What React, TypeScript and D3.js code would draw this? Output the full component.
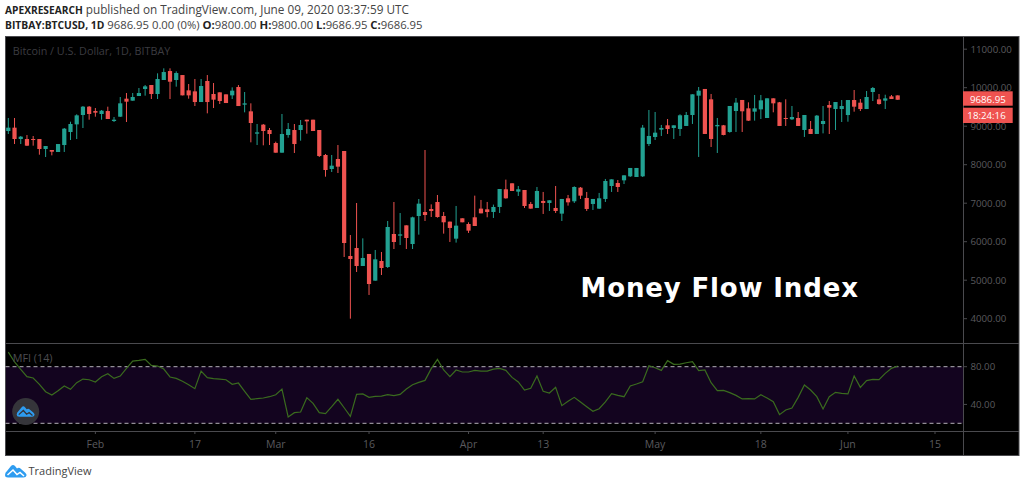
import * as d3 from 'd3';

const START_DATE = Date.UTC(2020, 0, 18);

const opens = [
  8875,8962,8667,8667,8667,8667,8408,8382,8330,8511,
  8849,9048,9291,9507,9394,9317,9394,9135,9247,9715,
  9663,9784,9966,10070,9836,10200,10433,10200,10329,9931,
  9905,9628,10174,9836,9879,9827,9801,10018,9559,9386,
  8806,9040,8901,8563,8312,8771,8901,8901,9169,9169,
  8901,8252,7888,8148,8356,5629,5836,5369,5681,4988,
  5499,5343,6200,6157,6425,5940,6667,6771,6849,7031,
  6668,6521,6079,6608,6460,6634,6859,6841,6772,6902,
  7361,7517,7300,7343,6980,6876,7058,7006,6876,6729,
  7127,7049,7404,7136,6980,6859,7110,7447,7525,7594,
  7698,7681,7698,8538,8720,8910,9023,8954,8928,9006,
  9291,9793,9967,9698,8997,9023,8850,9395,9681,9464,
  9378,9438,9213,9724,9620,9213,9179,9213,8902,8928,
  8798,9057,9550,9446,9446,9290,9680,9611,9446,9888,
  9697,9663,9775,9800,
];
const highs = [
  9213,9213,8745,8771,8745,8667,8485,8382,8537,8953,
  9117,9308,9524,9524,9472,9420,9507,9239,9758,9862,
  9862,9992,10070,10070,10373,10503,10503,10425,10329,10096,
  10226,10226,10329,10122,9879,9827,10009,10070,9888,9594,
  9057,9057,8953,8598,9317,9083,9057,9161,9169,9169,
  8901,8278,8252,8511,8356,6174,7005,6087,5681,5785,
  5733,6538,7031,6745,6425,6650,7109,8382,6970,7213,
  6772,6521,6928,6608,6504,7196,7084,7032,6963,7369,
  7612,7517,7447,7343,7032,7421,7292,7075,7447,7110,
  7214,7439,7421,7292,7110,7266,7629,7620,7603,7724,
  7915,7915,9032,9421,9369,9032,9187,9023,9309,9369,
  9828,10018,9967,9837,9213,9032,9525,9733,9681,9620,
  9811,9811,9724,9724,9629,9698,9525,9369,9291,9135,
  9291,9524,9654,9628,9680,9680,9940,9706,9914,10018,
  9836,9818,9810,9800,
];
const lows = [
  8797,8537,8537,8485,8494,8260,8200,8243,8330,8330,
  8641,8667,8953,9169,9247,9169,9187,9109,9239,9109,
  9663,9784,9793,9706,9706,10200,9706,10026,9801,9715,
  9524,9628,9334,9472,9576,9602,9706,9524,9360,8581,
  8511,8503,8511,8312,8312,8702,8304,8624,8806,8875,
  8200,7689,7810,7784,5603,4001,5213,5369,4616,4988,
  5135,5317,5810,5914,5810,5810,6183,6538,6641,6624,
  6209,5993,5976,6504,6227,6408,6737,6634,6616,6746,
  7118,7317,7188,6876,6859,6876,6720,6798,6746,6538,
  6937,7006,7110,6798,6824,6850,7032,7292,7292,7499,
  7681,7681,7681,8486,8642,8746,8798,8668,8746,9006,
  9058,8201,8798,8460,8304,8763,8832,8850,8850,9135,
  9144,9187,9213,9361,9006,9006,9161,9006,8720,8798,
  8798,8814,8797,8901,9109,9117,9377,9394,9446,9654,
  9559,9446,9706,9686.95,
];
const closes = [
  8962,8667,8728,8494,8650,8408,8485,8338,8537,8936,
  9057,9282,9507,9317,9351,9403,9187,9169,9594,9637,
  9758,9862,10035,9836,10226,10407,10156,10381,9801,9801,
  9628,10044,9628,9689,9654,9602,9923,9524,9594,9083,
  8840,8875,8797,8312,8797,8927,8537,9031,9126,8875,
  8226,7862,7975,7949,5966,5551,5369,5577,4901,5542,
  5317,6382,5992,6191,6096,6633,6988,6693,6797,6641,
  6504,6357,6417,6504,6287,6408,6737,6772,6902,7369,
  7127,7317,7361,6928,6859,7317,7006,7075,6798,7110,
  7023,7421,7196,6850,7110,7127,7577,7620,7421,7724,
  7915,7915,8962,8746,8832,8954,8928,9023,9283,9291,
  9828,9923,8798,8668,9032,8772,9525,9612,9387,9144,
  9464,9672,9724,9594,9006,9187,9239,9006,9291,8798,
  9274,9135,9481,9628,9524,9680,9507,9446,9758,9992,
  9576,9723,9706,9686.95,
];
const mfi = [
  95.5,85,77.2,69.4,68,61.3,53.5,50,54.6,59.5,
  56,63.1,66.9,66.2,63.8,69.4,72.6,67.6,70.1,78.2,
  86,86.7,87.8,81.4,80.7,77.5,69.1,67.6,64.5,60.9,
  56.7,75.4,68.4,67.3,66.9,66.2,61.3,62.7,53.9,45.4,
  46.1,46.8,48.2,50.3,56.3,26.7,31.3,32,47.2,41.2,
  31.3,30.2,37.6,45.4,36.5,27.4,50.7,51.1,47.5,48.6,
  48.9,50.3,49.3,50.7,56.3,60.9,63.4,65.5,77.9,87.8,
  76.5,69.4,76.5,74.4,74.4,76.1,75.4,75.4,77.5,78.2,
  76.1,68.7,63.8,55.3,57.1,70.1,53.9,52.1,58.1,38.7,
  43.3,47.5,42.6,37.6,32.7,35.5,42.6,51.4,49.6,48.2,
  59.5,61.6,64.1,81.1,78.9,76.1,86.4,82.5,82.8,84.2,
  85.3,75.8,76.5,63.1,54.6,54.9,52.5,49.6,45.8,46.1,
  45.8,50.3,46.8,42.9,29.2,34.1,36.2,47.5,60.6,55.3,
  48.2,35.2,48.2,52.8,51.8,51.1,70.1,58.1,65.2,66.6,
  66.2,72.9,78.2,80.7,
];

const priceTicks = [4000, 5000, 6000, 7000, 8000, 9000, 10000, 11000];
const mfiTicks = [40, 80];
const mfiBands = [20, 80];
const timeTicks: [number, number, number, string][] = [
  [2020, 1, 1, 'Feb'], [2020, 1, 17, '17'], [2020, 2, 1, 'Mar'], [2020, 2, 16, '16'],
  [2020, 3, 1, 'Apr'], [2020, 3, 13, '13'], [2020, 4, 1, 'May'], [2020, 4, 18, '18'],
  [2020, 5, 1, 'Jun'], [2020, 5, 15, '15'],
];
const LAST_PRICE = 9686.95;

const UP = '#22a192';
const DOWN = '#ef5350';
const AXIS_TEXT = '#5a5a5e';
const FRAME = '#4a4a4e';
const FONT = '"Open Sans", sans-serif';

const W = 1024;
const H = 486;
const LEFT = 5.5;
const RIGHT = 1019;
const AXIS_X = 963;

const CLOUD = 'M0 11 Q0 8.5 2 7 L6 2 Q8 0 10 2 L12 4.5 Q14 3 16 5 L20 8.5 Q22 10.5 21.5 11.5 Q21 13.5 18.5 13.5 L3 13.5 Q0 13.5 0 11 Z';
const CLOUD_LINE = 'M2.5 11 L8 6 L12 10.5 L15 8.5 L19 12';

export default function App() {
  const dates = opens.map((_, i) => d3.utcDay.offset(new Date(START_DATE), i));

  const x = d3.scaleUtc()
    .domain([new Date(START_DATE), new Date(Date.UTC(2020, 5, 15))])
    .range([8.3, 935]);
  const y = d3.scaleLinear().domain([4000, 11000]).range([318.7, 49.2]);
  const yMfi = d3.scaleLinear().domain([20, 80]).range([423.3, 366.7]);

  const mfiLine = d3.line<number>()
    .x((_, i) => x(dates[i]))
    .y((d) => yMfi(d))(mfi) ?? '';

  return (
    <svg
      width={W}
      height={H}
      viewBox={`0 0 ${W} ${H}`}
      style={{ position: 'absolute', top: 0, left: 0, background: '#fff' }}
    >
      {/* header */}
      <text x={5} y={14} fontFamily={FONT} fontSize={11.75} fill="#444">
        <tspan fontWeight={700} fontSize={10.2} fill="#222">APEXRESEARCH</tspan> published on TradingView.com, June 09, 2020 03:37:59 UTC
      </text>
      <text x={5} y={29} fontFamily={FONT} fontSize={11.3} fill="#444">
        <tspan fontWeight={700} fontSize={10.3} fill="#222">BITBAY:BTCUSD, 1D</tspan> 9686.95 0.00 (0%) <tspan fontWeight={700} fill="#222">O:</tspan>9800.00 <tspan fontWeight={700} fill="#222">H:</tspan>9800.00 <tspan fontWeight={700} fill="#222">L:</tspan>9686.95 <tspan fontWeight={700} fill="#222">C:</tspan>9686.95
      </text>

      {/* frame */}
      <rect x={LEFT} y={36.5} width={RIGHT - LEFT} height={419} fill="#000" stroke={FRAME} strokeWidth={1} />

      {/* MFI band */}
      <rect x={LEFT + 0.5} y={yMfi(80)} width={AXIS_X - LEFT} height={yMfi(20) - yMfi(80)} fill="#13041f" />
      {mfiBands.map((b) => (
        <line key={b} x1={LEFT} x2={AXIS_X} y1={yMfi(b)} y2={yMfi(b)} stroke="#b4b0b8" strokeDasharray="4 3" />
      ))}

      {/* separators */}
      <line x1={LEFT} x2={RIGHT} y1={343.5} y2={343.5} stroke={FRAME} />
      <line x1={LEFT} x2={RIGHT} y1={431.5} y2={431.5} stroke={FRAME} />
      <line x1={AXIS_X + 0.5} x2={AXIS_X + 0.5} y1={36.5} y2={455.5} stroke={FRAME} />

      {/* candles */}
      {dates.map((d, i) => {
        const cx = x(d);
        const up = closes[i] >= opens[i];
        const color = up ? UP : DOWN;
        const top = y(Math.max(opens[i], closes[i]));
        const bottom = y(Math.min(opens[i], closes[i]));
        return (
          <g key={i}>
            <line x1={cx} x2={cx} y1={y(highs[i])} y2={y(lows[i])} stroke={color} strokeWidth={1} />
            <rect x={cx - 2.1} y={top} width={4.2} height={Math.max(bottom - top, 1)} fill={color} />
          </g>
        );
      })}

      {/* MFI line */}
      <path d={mfiLine} fill="none" stroke="#3a6b1e" strokeWidth={1.2} />

      {/* price axis */}
      {priceTicks.map((t) => (
        <g key={t}>
          <line x1={AXIS_X} x2={AXIS_X + 4} y1={y(t)} y2={y(t)} stroke={FRAME} />
          <text x={970.5} y={y(t) + 3.5} fontFamily={FONT} fontSize={9.7} fill={AXIS_TEXT}>
            {d3.format('.2f')(t)}
          </text>
        </g>
      ))}
      {mfiTicks.map((t) => (
        <g key={t}>
          <line x1={AXIS_X} x2={AXIS_X + 4} y1={yMfi(t)} y2={yMfi(t)} stroke={FRAME} />
          <text x={970.5} y={yMfi(t) + 3.5} fontFamily={FONT} fontSize={9.7} fill={AXIS_TEXT}>
            {d3.format('.2f')(t)}
          </text>
        </g>
      ))}

      {/* last price tags */}
      <rect x={AXIS_X} y={91.3} width={49.7} height={14.4} fill={DOWN} />
      <text x={970} y={y(LAST_PRICE) + 3} fontFamily={FONT} fontSize={9.7} fill="#fff">
        {d3.format('.2f')(LAST_PRICE)}
      </text>
      <rect x={AXIS_X} y={107.7} width={49.7} height={15.3} fill={DOWN} />
      <text x={1005.7} y={119.3} textAnchor="end" fontFamily={FONT} fontSize={9.7} fill="#fff">18:24:16</text>

      {/* time axis */}
      {timeTicks.map(([yr, mo, da, label]) => {
        const tx = x(new Date(Date.UTC(yr, mo, da)));
        return (
          <g key={label}>
            <line x1={tx} x2={tx} y1={431.5} y2={434} stroke={FRAME} />
            <text x={tx} y={448} textAnchor="middle" fontFamily={FONT} fontSize={10.5} fill={AXIS_TEXT}>{label}</text>
          </g>
        );
      })}

      {/* overlays */}
      <text x={12.7} y={54.5} fontFamily={FONT} fontSize={10.8} fill="#3c3c40">Bitcoin / U.S. Dollar, 1D, BITBAY</text>
      <text x={12.7} y={361.7} fontFamily={FONT} fontSize={10.8} fill="#4c4c50">MFI (14)</text>
      <text x={580.5} y={297.3} fontFamily='"DejaVu Sans", sans-serif' fontSize={26} fontWeight={700} letterSpacing={0.85} fill="#fff">Money Flow Index</text>

      {/* logos */}
      <circle cx={25.7} cy={411.5} r={13.5} fill="#35353a" />
      <g transform="translate(16.7 405.5) scale(0.83)">
        <path d={CLOUD} fill="#2e9cf0" />
        <path d={CLOUD_LINE} fill="none" stroke="#35353a" strokeWidth={1.5} />
      </g>
      <g transform="translate(5 464)">
        <path d={CLOUD} fill="#2e9cf0" />
        <path d={CLOUD_LINE} fill="none" stroke="#fff" strokeWidth={1.5} />
      </g>
      <text x={28.5} y={475} fontFamily={FONT} fontSize={11} fill="#444">TradingView</text>
    </svg>
  );
}
